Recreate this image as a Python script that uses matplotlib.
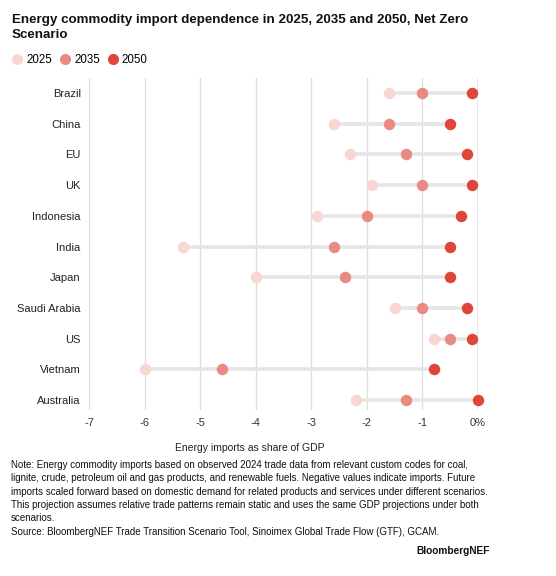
import matplotlib
matplotlib.use("Agg")
import matplotlib.pyplot as plt
from matplotlib.lines import Line2D

countries = ["Brazil", "China", "EU", "UK", "Indonesia", "India", "Japan",
             "Saudi Arabia", "US", "Vietnam", "Australia"]
v2025 = [-1.6, -2.6, -2.3, -1.9, -2.9, -5.3, -4.0, -1.5, -0.8, -6.0, -2.2]
v2035 = [-1.0, -1.6, -1.3, -1.0, -2.0, -2.6, -2.4, -1.0, -0.5, -4.6, -1.3]
v2050 = [-0.1, -0.5, -0.2, -0.1, -0.3, -0.5, -0.5, -0.2, -0.1, -0.8, 0.0]
xticks = [-7, -6, -5, -4, -3, -2, -1, 0]
xticklabels = ["-7", "-6", "-5", "-4", "-3", "-2", "-1", "0%"]

c25, c35, c50 = "#f8d7d3", "#e98b82", "#e0453b"
plt.rcParams['font.family'] = ['Liberation Sans', 'DejaVu Sans']

W, H = 556, 576
fig = plt.figure(figsize=(W/100, H/100), dpi=100)
ax = fig.add_axes([89/W, 1-410/H, (478-89)/W, (410-78)/H])

y = list(range(len(countries)))
for i in y:
    ax.plot([min(v2025[i], v2035[i], v2050[i]), max(v2025[i], v2035[i], v2050[i])],
            [i, i], color="#e6e6e6", lw=2.6, zorder=2, solid_capstyle="butt")
ax.scatter(v2025, y, s=68, color=c25, zorder=3, clip_on=False, linewidths=0)
ax.scatter(v2035, y, s=68, color=c35, zorder=4, clip_on=False, linewidths=0)
ax.scatter(v2050, y, s=68, color=c50, zorder=5, clip_on=False, linewidths=0)

n = len(countries)
ax.set_xlim(-7, 0)
ax.set_ylim(n - 1 + 0.326, -0.489)
ax.set_xticks(xticks)
ax.set_xticklabels(xticklabels, fontsize=8, color="#333333")
ax.set_yticks(y)
ax.set_yticklabels(countries, fontsize=8, color="#222222")
ax.tick_params(axis='y', length=0, pad=6)
ax.tick_params(axis='x', length=0, pad=5.5)
for x in xticks[:-1]:
    ax.axvline(x, color="#dddddd", lw=0.9, zorder=1)
ax.axvline(0, color="#888888", lw=1.0, zorder=1)
for s in ax.spines.values():
    s.set_visible(False)

fig.text(12/W, 1-14/H, "Energy commodity import dependence in 2025, 2035 and 2050, Net Zero\nScenario",
         fontsize=9.6, fontweight="bold", va="top", ha="left", linespacing=1.3, color="#111111")

handles = [Line2D([], [], marker="o", ls="", color=c, markersize=7) for c in (c25, c35, c50)]
fig.legend(handles, ["2025", "2035", "2050"], loc="upper left", bbox_to_anchor=(7/W, 1-49/H),
           ncol=3, frameon=False, fontsize=8.3, handletextpad=0.3, columnspacing=0.6,
           handlelength=1.0, borderaxespad=0)

fig.text(250/W, 1-448/H, "Energy imports as share of GDP", fontsize=7.5, ha="center", va="center",
         color="#222222")

note = ("Note: Energy commodity imports based on observed 2024 trade data from relevant custom codes for coal,\n"
        "lignite, crude, petroleum oil and gas products, and renewable fuels. Negative values indicate imports. Future\n"
        "imports scaled forward based on domestic demand for related products and services under different scenarios.\n"
        "This projection assumes relative trade patterns remain static and uses the same GDP projections under both\n"
        "scenarios.\n"
        "Source: BloombergNEF Trade Transition Scenario Tool, Sinoimex Global Trade Flow (GTF), GCAM.")
fig.text(11/W, 1-460/H, note, fontsize=7.0, ha="left", va="top", linespacing=1.42, color="#111111")
fig.text(490/W, 1-551/H, "BloombergNEF", fontsize=7.3, fontweight="bold", ha="right", va="center",
         color="#111111")

fig.savefig("out.png", dpi=100, facecolor="white")
